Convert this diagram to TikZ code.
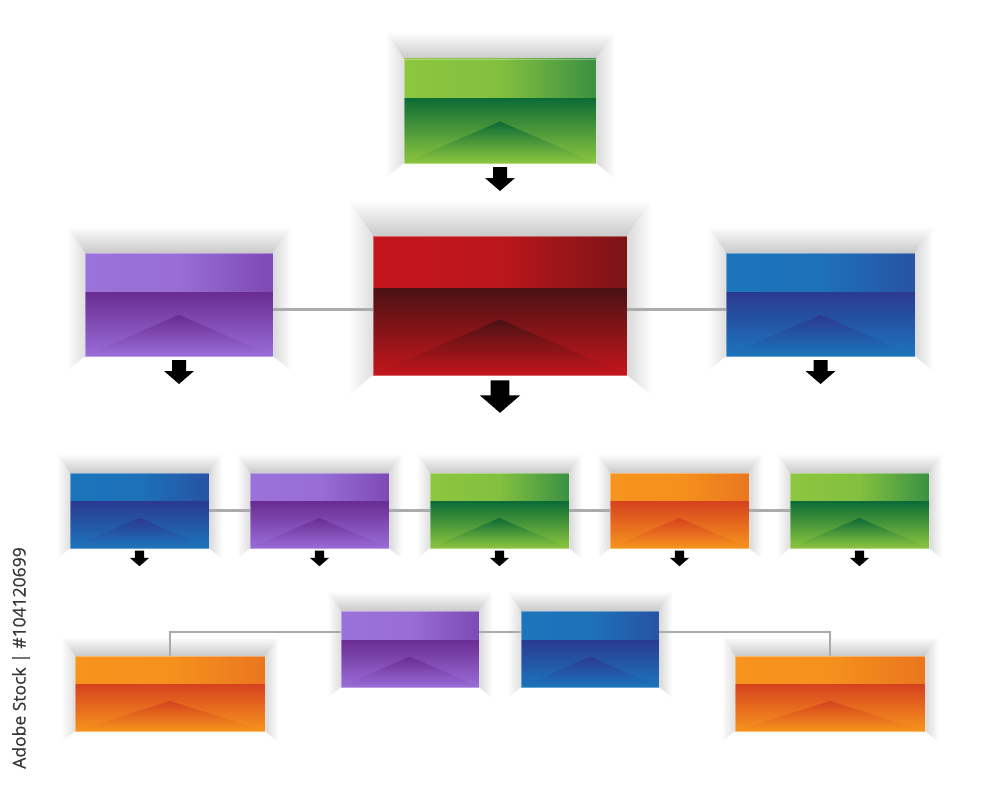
\documentclass[tikz,border=0pt]{standalone}
\usepackage{fontspec}
\usetikzlibrary{calc}
\definecolor{grnA}{HTML}{8DC63F}
\definecolor{grnB}{HTML}{3A9143}
\definecolor{grnC}{HTML}{0B6B36}
\definecolor{grnD}{HTML}{8DC63F}
\definecolor{redA}{HTML}{C4161C}
\definecolor{redB}{HTML}{7B1416}
\definecolor{redC}{HTML}{4A1214}
\definecolor{redD}{HTML}{C4161C}
\definecolor{purA}{HTML}{9B72DA}
\definecolor{purB}{HTML}{7E4AB5}
\definecolor{purC}{HTML}{692C91}
\definecolor{purD}{HTML}{9A6DD8}
\definecolor{bluA}{HTML}{1C75BC}
\definecolor{bluB}{HTML}{2753A3}
\definecolor{bluC}{HTML}{2B3990}
\definecolor{bluD}{HTML}{1C75BC}
\definecolor{orgA}{HTML}{F7941D}
\definecolor{orgB}{HTML}{EA761E}
\definecolor{orgC}{HTML}{D5421F}
\definecolor{orgD}{HTML}{F7941D}
\newfontfamily\stockfont[FakeBold=0.6]{Open Sans}

% name, centre x, centre y, width, height, colour set
\newcommand{\orgbox}[6]{%
  \pgfmathsetmacro{\frx}{0.18*#5}
  \pgfmathsetmacro{\frt}{0.26*#5}
  \pgfmathsetmacro{\frb}{0.15*#5}
  \pgfmathsetmacro{\bandh}{0.37*#5}
  \node[boxnode, minimum width=#4pt, minimum height=#5pt] (#1) at (#2,#3) {};
  \shade[top color=white, bottom color=black!21] ($(#1.north west)+(-\frx,-\frt)$) -- ($(#1.north east)+(\frx,-\frt)$) -- (#1.north east) -- (#1.north west) -- cycle;
  \shade[left color=white, right color=black!13] ($(#1.north west)+(-\frx,-\frt)$) -- (#1.north west) -- (#1.south west) -- ($(#1.south west)+(-\frx,\frb)$) -- cycle;
  \shade[left color=black!15, right color=white] ($(#1.north east)+(\frx,-\frt)$) -- (#1.north east) -- (#1.south east) -- ($(#1.south east)+(\frx,\frb)$) -- cycle;
  \shade[top color=#6C, bottom color=#6D] ($(#1.north west)+(0,\bandh)$) rectangle (#1.south east);
  \shade[top color=#6C, bottom color=#6D] (#1.south west) -- ($(#1.north)+(0,0.6*#5)$) -- (#1.south east) -- cycle;
  \shade[left color=#6A, right color=#6B, middle color=#6A!88!#6B] (#1.north west) rectangle ($(#1.north east)+(0,\bandh)$);
  \draw[white, opacity=0.35, line width=0.8pt] (#1.north west) rectangle (#1.south east);
}
% box anchor, scale
\newcommand{\dnarrow}[2]{%
  \fill[shift={(#1)}, scale=#2] (-7,4) -- (7,4) -- (7,15) -- (15,15) -- (0,28) -- (-15,15) -- (-7,15) -- cycle;
}

\begin{document}
\begin{tikzpicture}[x=1pt, y=-1pt,
  boxnode/.style={inner sep=0pt, outer sep=0pt},
  link/.style={draw=black!33, line width=2.8pt}]
  \useasboundingbox (0,0) rectangle (1000,784);

  \orgbox{top}{500}{111}{192}{104}{grn}
  \orgbox{red}{500}{305.5}{254}{139}{red}
  \orgbox{pl}{179}{304.5}{188}{103}{pur}
  \orgbox{br}{820.5}{304.5}{189}{103}{blu}

  \orgbox{ra}{139.5}{510.5}{139}{75}{blu}
  \orgbox{rb}{319.5}{510.5}{139}{75}{pur}
  \orgbox{rc}{499.5}{510.5}{139}{75}{grn}
  \orgbox{rd}{679.5}{510.5}{139}{75}{org}
  \orgbox{re}{859.5}{510.5}{139}{75}{grn}

  \orgbox{pm}{410}{649}{138}{76}{pur}
  \orgbox{bm}{590}{649}{138}{76}{blu}
  \orgbox{ol}{170}{693.5}{190}{75}{org}
  \orgbox{or}{830}{693.5}{190}{75}{org}

  \draw[link] ([yshift=-5pt]pl.east) -- ([yshift=-5pt]pl.east -| red.west);
  \draw[link] ([yshift=-5pt]br.west) -- ([yshift=-5pt]br.west -| red.east);
  \draw[link] (ra.east) -- (rb.west);
  \draw[link] (rb.east) -- (rc.west);
  \draw[link] (rc.east) -- (rd.west);
  \draw[link] (rd.east) -- (re.west);
  \draw[link] ([yshift=17pt]pm.east) -- ([yshift=17pt]bm.west);
  \draw[link] (ol.north) |- ([yshift=17pt]pm.west);
  \draw[link] ([yshift=17pt]bm.east) -| (or.north);

  \dnarrow{top.south}{1}
  \dnarrow{red.south}{1.35}
  \dnarrow{pl.south}{1}
  \dnarrow{br.south}{1}
  \foreach \b in {ra,rb,rc,rd,re}{
    \dnarrow{\b.south}{0.65}
  }

  \node[rotate=90, text=black!78, font=\stockfont\fontsize{17.5}{20}\selectfont] (mark) at (21,658) {Adobe Stock | \#104120699};
\end{tikzpicture}
\end{document}
